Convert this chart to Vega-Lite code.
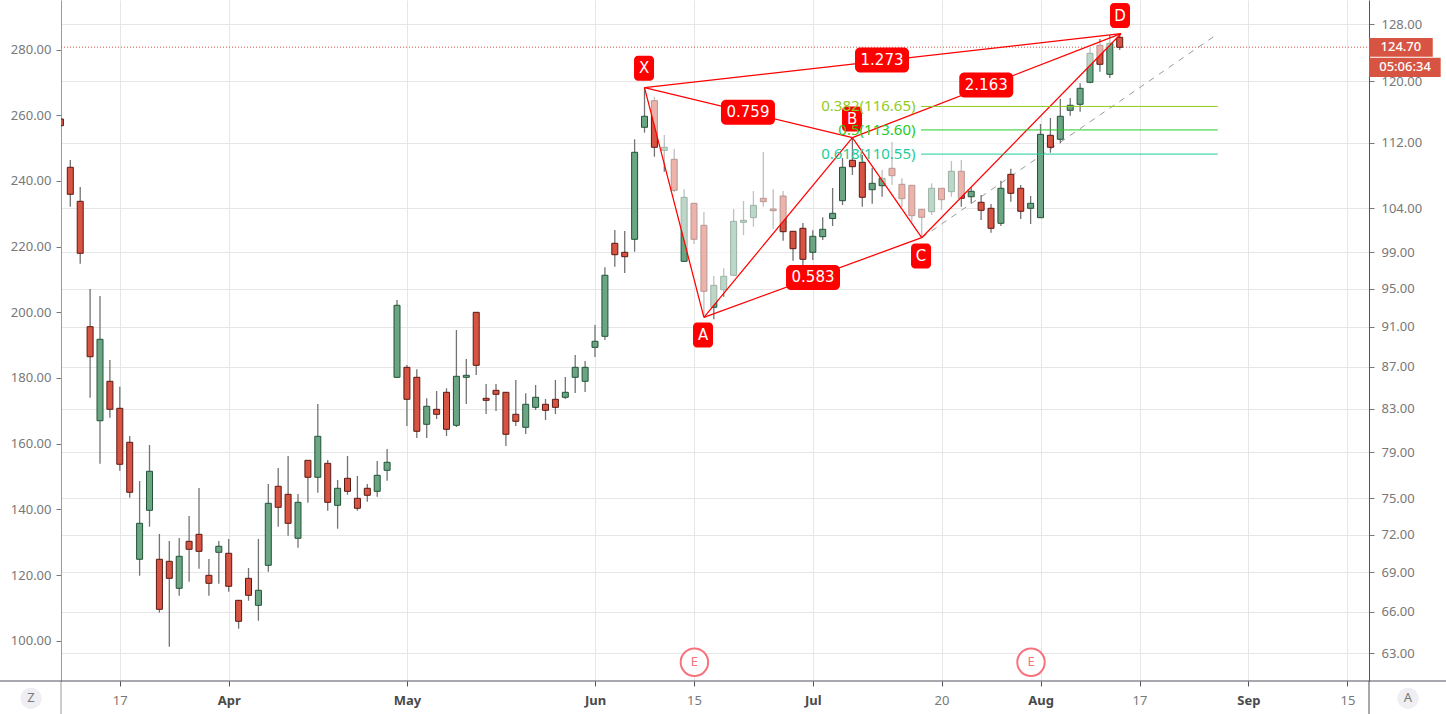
{
  "$schema": "https://vega.github.io/schema/vega-lite/v6.json",
  "autosize": "none",
  "padding": {"left": 61, "top": 0, "right": 77, "bottom": 33},
  "width": 1308,
  "height": 681,
  "background": "#ffffff",
  "config": {"view": {"stroke": null}, "font": "Noto Sans"},
  "datasets": {
    "candles": [
      {"i":0,"o":258.86,"h":258.86,"l":256.82,"c":256.82},
      {"i":1,"o":244.16,"h":246.38,"l":232.16,"c":235.93},
      {"i":2,"o":233.80,"h":238.16,"l":214.80,"c":217.97},
      {"i":3,"o":195.62,"h":207.10,"l":174.00,"c":186.48},
      {"i":4,"o":166.99,"h":204.96,"l":153.90,"c":191.78},
      {"i":5,"o":178.99,"h":185.48,"l":167.91,"c":170.46},
      {"i":6,"o":170.77,"h":177.35,"l":151.77,"c":153.72},
      {"i":7,"o":160.42,"h":162.33,"l":143.55,"c":145.19},
      {"i":8,"o":124.79,"h":148.63,"l":119.79,"c":135.75},
      {"i":9,"o":139.71,"h":159.59,"l":134.71,"c":151.59},
      {"i":10,"o":124.79,"h":132.49,"l":108.53,"c":109.56},
      {"i":11,"o":124.18,"h":130.36,"l":98.17,"c":119.00},
      {"i":12,"o":115.96,"h":131.27,"l":113.70,"c":125.70},
      {"i":13,"o":130.27,"h":137.97,"l":117.97,"c":127.83},
      {"i":14,"o":132.40,"h":146.50,"l":121.92,"c":127.22},
      {"i":15,"o":119.91,"h":124.88,"l":113.70,"c":117.48},
      {"i":16,"o":126.92,"h":130.36,"l":117.36,"c":128.75},
      {"i":17,"o":126.62,"h":130.97,"l":114.92,"c":116.57},
      {"i":18,"o":112.30,"h":112.39,"l":103.66,"c":105.91},
      {"i":19,"o":119.00,"h":122.14,"l":112.18,"c":113.82},
      {"i":20,"o":110.78,"h":130.97,"l":106.09,"c":115.35},
      {"i":21,"o":122.96,"h":147.72,"l":121.01,"c":141.84},
      {"i":22,"o":147.02,"h":152.59,"l":134.71,"c":140.62},
      {"i":23,"o":144.58,"h":156.24,"l":131.97,"c":135.75},
      {"i":24,"o":131.18,"h":144.67,"l":128.32,"c":142.14},
      {"i":25,"o":154.93,"h":155.03,"l":142.02,"c":149.76},
      {"i":26,"o":149.76,"h":172.08,"l":145.07,"c":162.24},
      {"i":27,"o":154.02,"h":155.03,"l":139.59,"c":142.14},
      {"i":28,"o":141.23,"h":148.94,"l":134.10,"c":146.41},
      {"i":29,"o":149.45,"h":156.24,"l":144.46,"c":145.49},
      {"i":30,"o":143.36,"h":150.15,"l":139.59,"c":140.32},
      {"i":31,"o":146.41,"h":147.72,"l":142.33,"c":144.28},
      {"i":32,"o":145.49,"h":154.72,"l":143.85,"c":150.37},
      {"i":33,"o":151.89,"h":158.38,"l":148.72,"c":154.33},
      {"i":34,"o":180.21,"h":203.75,"l":180.00,"c":202.13},
      {"i":35,"o":183.25,"h":183.95,"l":165.38,"c":173.51},
      {"i":36,"o":180.21,"h":182.64,"l":161.72,"c":163.77},
      {"i":37,"o":165.90,"h":173.81,"l":161.72,"c":171.38},
      {"i":38,"o":170.46,"h":176.04,"l":167.51,"c":168.94},
      {"i":39,"o":175.64,"h":176.86,"l":162.33,"c":164.37},
      {"i":40,"o":165.59,"h":194.61,"l":165.07,"c":180.51},
      {"i":41,"o":180.21,"h":185.78,"l":172.08,"c":180.82},
      {"i":42,"o":200.00,"h":200.09,"l":180.91,"c":183.86},
      {"i":43,"o":173.81,"h":178.17,"l":169.03,"c":173.20},
      {"i":44,"o":176.25,"h":178.17,"l":169.95,"c":175.03},
      {"i":45,"o":175.64,"h":175.73,"l":159.29,"c":162.85},
      {"i":46,"o":168.94,"h":179.39,"l":165.38,"c":166.81},
      {"i":47,"o":164.98,"h":175.34,"l":162.94,"c":171.99},
      {"i":48,"o":171.07,"h":177.86,"l":170.25,"c":174.12},
      {"i":49,"o":171.99,"h":173.60,"l":167.21,"c":170.16},
      {"i":50,"o":173.51,"h":179.39,"l":169.03,"c":171.07},
      {"i":51,"o":174.12,"h":180.30,"l":173.60,"c":175.64},
      {"i":52,"o":180.21,"h":187.00,"l":175.43,"c":183.25},
      {"i":53,"o":178.99,"h":185.17,"l":175.73,"c":183.25},
      {"i":54,"o":189.34,"h":196.13,"l":186.39,"c":191.17},
      {"i":55,"o":192.69,"h":213.70,"l":191.57,"c":211.27},
      {"i":56,"o":221.01,"h":225.06,"l":213.89,"c":217.54},
      {"i":57,"o":218.27,"h":224.76,"l":211.97,"c":216.93},
      {"i":58,"o":222.23,"h":252.68,"l":218.45,"c":248.72},
      {"i":59,"o":256.34,"h":268.39,"l":254.69,"c":259.69},
      {"i":60,"o":264.44,"h":265.65,"l":247.38,"c":250.25},
      {"i":61,"o":249.33,"h":253.99,"l":242.82,"c":250.25},
      {"i":62,"o":246.59,"h":249.73,"l":236.63,"c":237.15},
      {"i":63,"o":215.53,"h":237.46,"l":215.32,"c":235.02},
      {"i":64,"o":233.19,"h":233.28,"l":220.80,"c":222.23},
      {"i":65,"o":226.49,"h":230.54,"l":198.57,"c":206.40},
      {"i":66,"o":201.52,"h":211.06,"l":197.87,"c":208.22},
      {"i":67,"o":206.88,"h":213.40,"l":204.75,"c":210.96},
      {"i":68,"o":211.27,"h":231.46,"l":211.06,"c":227.71},
      {"i":69,"o":227.41,"h":233.89,"l":223.54,"c":228.02},
      {"i":70,"o":228.81,"h":236.94,"l":226.07,"c":232.58},
      {"i":71,"o":234.72,"h":248.81,"l":232.16,"c":233.68},
      {"i":72,"o":231.46,"h":237.46,"l":225.37,"c":230.94},
      {"i":73,"o":235.42,"h":236.94,"l":221.80,"c":224.54},
      {"i":74,"o":224.67,"h":224.76,"l":215.72,"c":219.37},
      {"i":75,"o":225.58,"h":227.19,"l":213.89,"c":216.14},
      {"i":76,"o":218.27,"h":224.97,"l":215.93,"c":223.14},
      {"i":77,"o":223.02,"h":228.93,"l":222.02,"c":225.28},
      {"i":78,"o":228.56,"h":237.85,"l":226.28,"c":230.15},
      {"i":79,"o":233.99,"h":246.99,"l":232.68,"c":244.16},
      {"i":80,"o":246.29,"h":253.17,"l":241.81,"c":244.34},
      {"i":81,"o":245.68,"h":247.90,"l":232.16,"c":235.02},
      {"i":82,"o":237.33,"h":243.94,"l":233.07,"c":239.28},
      {"i":83,"o":238.55,"h":243.33,"l":235.20,"c":240.81},
      {"i":84,"o":243.85,"h":251.86,"l":238.77,"c":241.60},
      {"i":85,"o":238.98,"h":240.81,"l":232.16,"c":234.59},
      {"i":86,"o":238.67,"h":238.77,"l":227.59,"c":229.42},
      {"i":87,"o":231.37,"h":231.46,"l":222.72,"c":228.93},
      {"i":88,"o":230.64,"h":239.28,"l":229.63,"c":237.76},
      {"i":89,"o":237.76,"h":237.85,"l":231.15,"c":234.29},
      {"i":90,"o":236.73,"h":246.07,"l":235.20,"c":242.94},
      {"i":91,"o":242.94,"h":246.38,"l":232.16,"c":234.72},
      {"i":92,"o":235.20,"h":238.07,"l":233.19,"c":236.85},
      {"i":93,"o":233.50,"h":235.72,"l":228.11,"c":231.06},
      {"i":94,"o":231.67,"h":232.98,"l":224.24,"c":225.58},
      {"i":95,"o":227.10,"h":240.07,"l":226.28,"c":237.76},
      {"i":96,"o":242.02,"h":243.73,"l":233.68,"c":236.24},
      {"i":97,"o":237.76,"h":238.77,"l":228.41,"c":230.76},
      {"i":98,"o":231.67,"h":235.42,"l":226.89,"c":233.19},
      {"i":99,"o":228.81,"h":257.34,"l":228.72,"c":254.20},
      {"i":100,"o":253.90,"h":259.17,"l":248.60,"c":250.25},
      {"i":101,"o":252.68,"h":264.95,"l":251.46,"c":259.69},
      {"i":102,"o":261.51,"h":265.26,"l":259.87,"c":263.04},
      {"i":103,"o":263.34,"h":269.73,"l":261.09,"c":268.21},
      {"i":104,"o":270.04,"h":280.79,"l":269.73,"c":278.87},
      {"i":105,"o":281.31,"h":283.22,"l":273.27,"c":275.52},
      {"i":106,"o":272.47,"h":284.44,"l":271.35,"c":281.91},
      {"i":107,"o":283.74,"h":284.75,"l":279.87,"c":280.70}
    ],
    "triangles": [
      {"tri":"XAB","i":59,"v":268.4,"v2":268.4},
      {"tri":"XAB","i":65,"v":264.05,"v2":198.48},
      {"tri":"XAB","i":80,"v":253.17,"v2":253.17},
      {"tri":"BCD","i":80,"v":253.17,"v2":253.17},
      {"tri":"BCD","i":87,"v":261.34,"v2":222.72},
      {"tri":"BCD","i":107.13,"v":284.84,"v2":284.84}
    ],
    "legs": [
      {"leg":"XA","i":59,"i2":65,"v":268.4,"v2":198.48},
      {"leg":"AB","i":65,"i2":80,"v":198.48,"v2":253.17},
      {"leg":"BC","i":80,"i2":87,"v":253.17,"v2":222.72},
      {"leg":"CD","i":87,"i2":107.13,"v":222.72,"v2":284.84},
      {"leg":"XB","i":59,"i2":80,"v":268.4,"v2":253.17},
      {"leg":"AC","i":65,"i2":87,"v":198.48,"v2":222.72},
      {"leg":"BD","i":80,"i2":107.13,"v":253.17,"v2":284.84},
      {"leg":"XD","i":59,"i2":107.13,"v":268.4,"v2":284.84}
    ],
    "trend": [{"i":87,"i2":116.73,"v":222.72,"v2":284.44}],
    "points": [
      {"name":"X","i":58.95,"v":274.3},
      {"name":"A","i":64.91,"v":193.09},
      {"name":"B","i":79.96,"v":258.86},
      {"name":"C","i":86.93,"v":217.15},
      {"name":"D","i":107.03,"v":290.38}
    ],
    "ratios": [
      {"name":"0.759","i":69.45,"v":260.9},
      {"name":"0.583","i":76.02,"v":210.6},
      {"name":"1.273","i":82.99,"v":276.83},
      {"name":"2.163","i":93.52,"v":269.22}
    ],
    "earnings": [
      {"name":"E","i":64.04,"v":93.43},
      {"name":"E","i":98.04,"v":93.43}
    ],
    "frame": [
      {"part":"left","i":0.06,"i2":0.06,"v":87.73,"v2":77.68},
      {"part":"right","i":132.18,"i2":132.18,"v":87.73,"v2":77.68},
      {"part":"bottom","i":-6.1,"i2":139.96,"v":87.73,"v2":87.73}
    ],
    "buttons": [
      {"name":"Z","i":-2.97,"v":82.46},
      {"name":"A","i":136.12,"v":82.46}
    ],
    "fib": [
      {"name":"0.382(116.65)","price":116.65,"i":86.93,"i2":116.9,"at":86.37},
      {"name":"0.5(113.60)","price":113.6,"i":86.93,"i2":116.9,"at":86.37},
      {"name":"0.618(110.55)","price":110.55,"i":86.93,"i2":116.9,"at":86.37}
    ],
    "lastprice": [
      {"name":"124.70","i":132.18,"i2":138.62,"mid":135.4,"top":126.0,"bottom":123.37,"p":124.7},
      {"name":"05:06:34","i":132.18,"i2":139.42,"mid":135.82,"top":123.23,"bottom":120.58,"p":121.91}
    ],
    "priceline": [{"i":0.06,"i2":132.18,"p":124.7}]
  },
  "encoding": {
    "x": {
      "field": "i",
      "type": "quantitative",
      "scale": {"domain": [0.06, 132.18], "nice": false, "zero": false, "padding": 0},
      "axis": {
        "title": null,
        "values": [6, 17, 35, 54, 64, 76, 89, 99, 109, 120, 130],
        "labelExpr": "{'6':'17','17':'Apr','35':'May','54':'Jun','64':'15','76':'Jul','89':'20','99':'Aug','109':'17','120':'Sep','130':'15'}[datum.value]",
        "labelFont": "Noto Sans",
        "labelFontSize": 13,
        "labelColor": {"condition": {"test": "indexof([17,35,54,76,99,120], datum.value) >= 0", "value": "#4a4a4a"}, "value": "#787878"},
        "labelFontWeight": {"condition": {"test": "indexof([17,35,54,76,99,120], datum.value) >= 0", "value": "bold"}, "value": "normal"},
        "labelPadding": 8,
        "labelFlush": false,
        "labelOverlap": false,
        "tickSize": 5,
        "tickColor": "#50535e",
        "domain": false,
        "grid": true,
        "gridColor": "#e6e6e6"
      }
    }
  },
  "layer": [
    {
      "layer": [
        {
          "data": {"name": "priceline"},
          "mark": {"type": "rule", "color": "#d75442", "strokeDash": [1, 2], "strokeWidth": 1},
          "encoding": {
            "x2": {"field": "i2"},
            "y": {
              "field": "p",
              "type": "quantitative",
              "scale": {"type": "log", "domain": [61.06, 131.51], "nice": false},
              "axis": {
                "orient": "right",
                "title": null,
                "values": [63, 66, 69, 72, 75, 79, 83, 87, 91, 95, 99, 104, 112, 120, 128],
                "format": ".2f",
                "labelFont": "Noto Sans",
                "labelFontSize": 13,
                "labelColor": "#787878",
                "labelPadding": 7,
                "tickSize": 5,
                "tickColor": "#787878",
                "domainColor": "#50535e",
                "grid": true,
                "gridColor": "#e6e6e6"
              }
            }
          }
        },
        {
          "data": {"name": "lastprice"},
          "mark": {"type": "rect", "color": "#d75442", "clip": false},
          "encoding": {
            "x2": {"field": "i2"},
            "y": {"field": "top", "type": "quantitative", "scale": {"type": "log", "domain": [61.06, 131.51], "nice": false}},
            "y2": {"field": "bottom"}
          }
        },
        {
          "data": {"name": "lastprice"},
          "mark": {"type": "text", "color": "#ffffff", "font": "Noto Sans", "fontSize": 13, "fontWeight": 500, "clip": false},
          "encoding": {
            "x": {"field": "mid", "type": "quantitative"},
            "y": {"field": "p", "type": "quantitative", "scale": {"type": "log", "domain": [61.06, 131.51], "nice": false}},
            "text": {"field": "name"}
          }
        }
      ]
    },
    {
      "layer": [
        {
          "data": {"name": "trend"},
          "mark": {"type": "rule", "color": "#9a9a9a", "strokeDash": [6, 6], "strokeWidth": 1},
          "encoding": {
            "x2": {"field": "i2"},
            "y": {
              "field": "v",
              "type": "quantitative",
              "scale": {"domain": [87.73, 295.1], "nice": false, "zero": false},
              "axis": {
                "orient": "left",
                "title": null,
                "values": [100, 120, 140, 160, 180, 200, 220, 240, 260, 280],
                "format": ".2f",
                "labelFont": "Noto Sans",
                "labelFontSize": 13,
                "labelColor": "#787878",
                "labelPadding": 5,
                "tickSize": 5,
                "tickColor": "#787878",
                "domainColor": "#9a9a9a",
                "grid": false
              }
            },
            "y2": {"field": "v2"}
          }
        },
        {
          "data": {"name": "candles"},
          "mark": {"type": "rule", "color": "#737375", "strokeWidth": 1.3, "clip": true},
          "encoding": {
            "y": {"field": "h", "type": "quantitative", "scale": {"domain": [87.73, 295.1], "nice": false, "zero": false}},
            "y2": {"field": "l"}
          }
        },
        {
          "data": {"name": "candles"},
          "mark": {"type": "bar", "width": 6, "strokeWidth": 1, "clip": true},
          "encoding": {
            "y": {"field": "o", "type": "quantitative", "scale": {"domain": [87.73, 295.1], "nice": false, "zero": false}},
            "y2": {"field": "c"},
            "fill": {"condition": {"test": "datum.c > datum.o", "value": "#6ba583"}, "value": "#d75442"},
            "stroke": {"condition": {"test": "datum.c > datum.o", "value": "#225437"}, "value": "#5b1a13"}
          }
        },
        {
          "data": {"name": "triangles"},
          "mark": {"type": "area", "color": "#ffffff", "opacity": 0.55},
          "encoding": {
            "y": {"field": "v", "type": "quantitative", "scale": {"domain": [87.73, 295.1], "nice": false, "zero": false}},
            "y2": {"field": "v2"},
            "detail": {"field": "tri"}
          }
        },
        {
          "data": {"name": "legs"},
          "mark": {"type": "rule", "color": "#ff0000", "strokeWidth": 1.25},
          "encoding": {
            "x2": {"field": "i2"},
            "y": {"field": "v", "type": "quantitative", "scale": {"domain": [87.73, 295.1], "nice": false, "zero": false}},
            "y2": {"field": "v2"},
            "detail": {"field": "leg"}
          }
        },
        {
          "data": {"name": "points"},
          "mark": {"type": "rect", "color": "#ff0000", "width": 20, "height": 25, "cornerRadius": 4},
          "encoding": {
            "y": {"field": "v", "type": "quantitative", "scale": {"domain": [87.73, 295.1], "nice": false, "zero": false}}
          }
        },
        {
          "data": {"name": "ratios"},
          "mark": {"type": "rect", "color": "#ff0000", "width": 54, "height": 25, "cornerRadius": 5},
          "encoding": {
            "y": {"field": "v", "type": "quantitative", "scale": {"domain": [87.73, 295.1], "nice": false, "zero": false}}
          }
        },
        {
          "data": {"name": "points"},
          "mark": {"type": "text", "color": "#ffffff", "font": "DejaVu Sans", "fontSize": 15},
          "encoding": {
            "y": {"field": "v", "type": "quantitative", "scale": {"domain": [87.73, 295.1], "nice": false, "zero": false}},
            "text": {"field": "name"}
          }
        },
        {
          "data": {"name": "ratios"},
          "mark": {"type": "text", "color": "#ffffff", "font": "DejaVu Sans", "fontSize": 15},
          "encoding": {
            "y": {"field": "v", "type": "quantitative", "scale": {"domain": [87.73, 295.1], "nice": false, "zero": false}},
            "text": {"field": "name"}
          }
        },
        {
          "data": {"name": "earnings"},
          "mark": {"type": "point", "shape": "circle", "size": 755, "filled": true, "fill": "#ffffff", "stroke": "#f7727d", "strokeWidth": 2, "opacity": 1},
          "encoding": {
            "y": {"field": "v", "type": "quantitative", "scale": {"domain": [87.73, 295.1], "nice": false, "zero": false}}
          }
        },
        {
          "data": {"name": "earnings"},
          "mark": {"type": "text", "color": "#f7727d", "font": "Noto Sans", "fontSize": 13},
          "encoding": {
            "y": {"field": "v", "type": "quantitative", "scale": {"domain": [87.73, 295.1], "nice": false, "zero": false}},
            "text": {"field": "name"}
          }
        },
        {
          "data": {"name": "frame"},
          "mark": {"type": "rule", "strokeWidth": 1, "clip": false},
          "encoding": {
            "x2": {"field": "i2"},
            "y": {"field": "v", "type": "quantitative", "scale": {"domain": [87.73, 295.1], "nice": false, "zero": false}},
            "y2": {"field": "v2"},
            "color": {
              "field": "part",
              "type": "nominal",
              "scale": {"domain": ["left", "right", "bottom"], "range": ["#9a9a9a", "#50535e", "#50535e"]},
              "legend": null
            }
          }
        },
        {
          "data": {"name": "buttons"},
          "mark": {"type": "point", "shape": "circle", "size": 452, "filled": true, "color": "#eeeef3", "opacity": 1},
          "encoding": {
            "y": {"field": "v", "type": "quantitative", "scale": {"domain": [87.73, 295.1], "nice": false, "zero": false}}
          }
        },
        {
          "data": {"name": "buttons"},
          "mark": {"type": "text", "color": "#787878", "font": "Noto Sans", "fontSize": 13},
          "encoding": {
            "y": {"field": "v", "type": "quantitative", "scale": {"domain": [87.73, 295.1], "nice": false, "zero": false}},
            "text": {"field": "name"}
          }
        }
      ]
    },
    {
      "layer": [
        {
          "data": {"name": "fib"},
          "mark": {"type": "rule", "strokeWidth": 1},
          "encoding": {
            "x2": {"field": "i2"},
            "y": {"field": "price", "type": "quantitative", "scale": {"type": "log", "domain": [61.06, 131.51], "nice": false}, "axis": null},
            "color": {
              "field": "name",
              "type": "nominal",
              "sort": null,
              "scale": {"domain": ["0.382(116.65)", "0.5(113.60)", "0.618(110.55)"], "range": ["#8fcc23", "#22cc22", "#22cc99"]},
              "legend": null
            }
          }
        },
        {
          "data": {"name": "fib"},
          "mark": {"type": "text", "align": "right", "baseline": "middle", "font": "Noto Sans", "fontSize": 15},
          "encoding": {
            "x": {"field": "at", "type": "quantitative"},
            "y": {"field": "price", "type": "quantitative", "scale": {"type": "log", "domain": [61.06, 131.51], "nice": false}, "axis": null},
            "text": {"field": "name"},
            "color": {
              "field": "name",
              "type": "nominal",
              "sort": null,
              "scale": {"domain": ["0.382(116.65)", "0.5(113.60)", "0.618(110.55)"], "range": ["#8fcc23", "#22cc22", "#22cc99"]},
              "legend": null
            }
          }
        }
      ]
    }
  ],
  "resolve": {"scale": {"y": "independent", "color": "independent"}, "axis": {"y": "independent"}}
}
